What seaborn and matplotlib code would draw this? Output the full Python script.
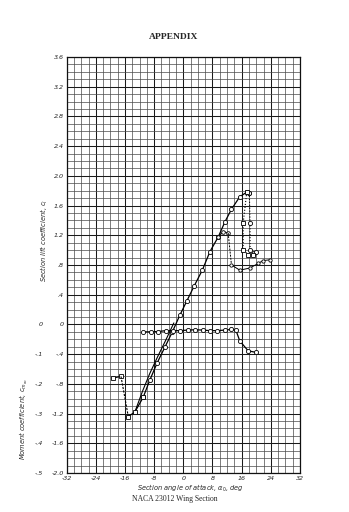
import numpy as np
import matplotlib
matplotlib.use('Agg')
import matplotlib.pyplot as plt
import seaborn as sns

# ---------------- data ----------------
# lift, circles (smooth, main curve)
alpha_circ = [-11.0, -9.2, -7.2, -5.1, -3.0, -1.0, 1.0, 3.0, 5.2, 7.3, 9.6, 11.4, 13.2, 15.5, 17.4, 18.1]
cl_circ    = [-0.98, -0.75, -0.52, -0.31, -0.10, 0.12, 0.32, 0.52, 0.73, 0.98, 1.18, 1.38, 1.55, 1.72, 1.78, 1.77]
# lift, circles, post-stall (dotted)
alpha_circ_stall = [18.1, 18.3, 18.3, 19.3, 20.0]
cl_circ_stall    = [1.77, 1.36, 1.00, 0.96, 0.98]
# lift, squares: negative stall
alpha_sq_a = [-19.2, -17.1]
cl_sq_a    = [-0.72, -0.70]
alpha_sq_drop = [-17.1, -15.1]
cl_sq_drop    = [-0.70, -1.24]
alpha_sq_b = [-15.1, -13.3, -11.0]
cl_sq_b    = [-1.24, -1.18, -0.98]
# lift, second (slightly offset) line on negative side
alpha_sq_line = [-13.3, -11.2, -9.2, -7.0, -4.8, -2.6]
cl_sq_line    = [-1.18, -0.90, -0.66, -0.43, -0.21, 0.02]
# squares, positive stall (dotted)
alpha_sq_stall = [17.4, 16.4, 16.4, 17.8, 19.2]
cl_sq_stall    = [1.78, 1.36, 1.00, 0.94, 0.94]
# rough-surface branch
alpha_rough = [9.6, 11.0, 12.3]
cl_rough    = [1.18, 1.25, 1.23]
alpha_rough_drop = [12.3, 13.2]
cl_rough_drop    = [1.23, 0.80]
alpha_rough_post = [13.2, 15.5, 18.3, 20.5, 21.9, 23.8]
cl_rough_post    = [0.80, 0.73, 0.76, 0.82, 0.86, 0.87]
# moment coefficient about a.c.
alpha_cm = [-11.0, -9.0, -7.0, -4.8, -2.8, -0.9, 1.2, 3.2, 5.3, 7.3, 9.3, 11.4, 13.2, 14.4, 15.5, 17.8, 19.9]
cm_vals  = [-0.025, -0.025, -0.024, -0.021, -0.021, -0.021, -0.019, -0.018, -0.019, -0.021,
            -0.021, -0.019, -0.017, -0.019, -0.056, -0.089, -0.094]

x_ticks = [-32, -24, -16, -8, 0, 8, 16, 24, 32]
x_tick_labels = ['-32', '-24', '-16', '-8', '0', '8', '16', '24', '32']
cl_ticks = [-2.0, -1.6, -1.2, -0.8, -0.4, 0.0, 0.4, 0.8, 1.2, 1.6, 2.0, 2.4, 2.8, 3.2, 3.6]
cl_tick_labels = ['-2.0', '-1.6', '-1.2', '-.8', '-.4', '0', '.4', '.8', '1.2', '1.6', '2.0', '2.4', '2.8', '3.2', '3.6']
cm_ticks = [0.0, -0.1, -0.2, -0.3, -0.4, -0.5]
cm_tick_labels = ['0', '-.1', '-.2', '-.3', '-.4', '-.5']

# ---------------- figure ----------------
sns.set_style('white')
plt.rcParams['font.family'] = ['DejaVu Sans']

fig = plt.figure(figsize=(3.49, 5.12), dpi=100)
ax = fig.add_axes([0.191, 0.0762, 0.6686, 0.8125])
ax.set_xlim(-32, 32)
ax.set_ylim(-2.0, 3.6)
ax.set_xticks(x_ticks)
ax.set_xticklabels(x_tick_labels)
ax.set_yticks(cl_ticks)
ax.set_yticklabels(cl_tick_labels)
ax.set_xticks(np.arange(-32, 33, 2), minor=True)
ax.set_yticks(np.linspace(-2.0, 3.6, 57), minor=True)
ax.grid(which='minor', color='#4a4a4a', lw=0.5)
ax.grid(which='major', color='#1a1a1a', lw=0.75)
ax.set_axisbelow(True)
ax.tick_params(which='both', length=0, labelsize=4.6, pad=2, colors='#222222')
for lbl in ax.get_xticklabels() + ax.get_yticklabels():
    lbl.set_style('italic')
for s in ax.spines.values():
    s.set_color('#111111')
    s.set_linewidth(0.9)

ax.set_xlabel(r'Section angle of attack, $\alpha_0$, deg', fontsize=4.8, style='italic')
ax.xaxis.set_label_coords(0.53, -0.024)
ax.set_ylabel(r'Section lift coefficient, $c_l$', fontsize=4.8, style='italic')
ax.yaxis.set_label_coords(-0.072, 0.56)

# moment axis (cm = cl/4)
ax2 = ax.twinx()
ax2.set_ylim(-0.5, 0.9)
ax2.yaxis.tick_left()
ax2.yaxis.set_label_position('left')
ax2.spines['left'].set_position(('axes', -0.09))
for s in ax2.spines.values():
    s.set_visible(False)
ax2.set_yticks(cm_ticks)
ax2.set_yticklabels(cm_tick_labels)
ax2.tick_params(length=0, labelsize=4.6, pad=2, colors='#222222')
for lbl in ax2.get_yticklabels():
    lbl.set_style('italic')
ax2.set_ylabel(r'Moment coefficient, $c_{m_{ac}}$', fontsize=4.8, style='italic')
ax2.yaxis.set_label_coords(-0.155, 0.13)
ax2.grid(False)


def draw(xv, yv, axis, marker=None, ls='-', lw=0.9, ms=3.0):
    sns.lineplot(x=xv, y=yv, ax=axis, sort=False, estimator=None, color='black',
                 linestyle=ls, linewidth=lw, marker=marker, markersize=ms,
                 markerfacecolor='white', markeredgecolor='black',
                 markeredgewidth=0.6, legend=False)


draw(alpha_sq_line, cl_sq_line, ax, lw=0.8)
draw(alpha_circ, cl_circ, ax, marker='o')
draw(alpha_circ_stall, cl_circ_stall, ax, marker='o', ls=':', lw=0.8)
draw(alpha_sq_a, cl_sq_a, ax, marker='s')
draw(alpha_sq_drop, cl_sq_drop, ax, ls=(0, (2, 1.2)), lw=0.8)
draw(alpha_sq_b, cl_sq_b, ax, marker='s')
draw(alpha_sq_stall, cl_sq_stall, ax, marker='s', ls=':', lw=0.8, ms=2.6)
draw(alpha_rough, cl_rough, ax, marker='o', lw=0.7, ms=2.6)
draw(alpha_rough_drop, cl_rough_drop, ax, ls=(0, (2, 1.2)), lw=0.7)
draw(alpha_rough_post, cl_rough_post, ax, marker='o', lw=0.7, ms=2.4)
draw(alpha_cm, cm_vals, ax2, marker='o')

fig.text(174 / 349, 1 - 37 / 512, 'APPENDIX', ha='center', va='center',
         family='Liberation Serif', weight='bold', size=6.8)
fig.text(175 / 349, 1 - 499 / 512, 'NACA 23012 Wing Section', ha='center', va='center',
         family='Liberation Serif', size=5.5)

fig.savefig('out.png', dpi=100, facecolor='white')
